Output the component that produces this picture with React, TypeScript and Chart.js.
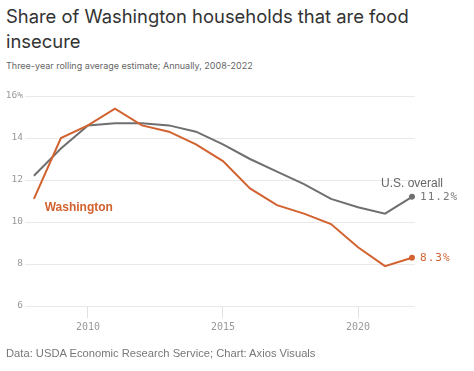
import React, { useEffect, useRef } from "react";
import { Chart, registerables } from "chart.js";

Chart.register(...registerables);

const years = [2008, 2009, 2010, 2011, 2012, 2013, 2014, 2015, 2016, 2017, 2018, 2019, 2020, 2021, 2022];
const washington = [11.1, 14.0, 14.6, 15.4, 14.6, 14.3, 13.7, 12.9, 11.6, 10.8, 10.4, 9.9, 8.8, 7.9, 8.3];
const usOverall = [12.2, 13.5, 14.6, 14.7, 14.7, 14.6, 14.3, 13.7, 13.0, 12.4, 11.8, 11.1, 10.7, 10.4, 11.2];
const xTicks = [2010, 2015, 2020];
const yTicks = [6, 8, 10, 12, 14, 16];

const ORANGE = "#d2622f";
const GRAY = "#6f6f6f";
const MONO = "'DejaVu Sans Mono', 'Liberation Mono', monospace";

const labelPlugin = {
  id: "labels",
  afterDatasetsDraw(chart: any) {
    const { ctx, scales } = chart;
    const x = scales.x;
    const y = scales.y;
    const last = years.length - 1;
    ctx.save();
    ctx.font = "bold 12px 'Liberation Sans', Arial, sans-serif";
    ctx.fillStyle = ORANGE;
    ctx.textAlign = "left";
    ctx.textBaseline = "middle";
    ctx.fillText("Washington", x.getPixelForValue(2008.4), y.getPixelForValue(10.7));
    ctx.font = "12px 'Liberation Sans', Arial, sans-serif";
    ctx.fillStyle = "#666";
    ctx.textAlign = "right";
    ctx.fillText("U.S. overall", x.getPixelForValue(years[last]) + 31, y.getPixelForValue(usOverall[last]) - 13);
    ctx.font = "11px " + MONO;
    (ctx as any).letterSpacing = "1px";
    ctx.textAlign = "left";
    ctx.fillStyle = "#777";
    ctx.fillText(usOverall[last].toFixed(1) + "%", x.getPixelForValue(years[last]) + 8, y.getPixelForValue(usOverall[last]));
    ctx.fillStyle = ORANGE;
    ctx.fillText(washington[last].toFixed(1) + "%", x.getPixelForValue(years[last]) + 8, y.getPixelForValue(washington[last]));
    ctx.restore();
  },
};

export default function App() {
  const ref = useRef<HTMLCanvasElement>(null);
  useEffect(() => {
    if (!ref.current) return;
    const last = years.length - 1;
    const chart = new Chart(ref.current, {
      type: "line",
      data: {
        datasets: [
          {
            label: "Washington",
            data: years.map((yr, i) => ({ x: yr, y: washington[i] })),
            borderColor: ORANGE,
            backgroundColor: ORANGE,
            borderWidth: 2,
            tension: 0,
            pointRadius: (c: any) => (c.dataIndex === last ? 3 : 0),
            pointBorderWidth: 0,
          },
          {
            label: "U.S. overall",
            data: years.map((yr, i) => ({ x: yr, y: usOverall[i] })),
            borderColor: GRAY,
            backgroundColor: GRAY,
            borderWidth: 2,
            tension: 0,
            pointRadius: (c: any) => (c.dataIndex === last ? 3 : 0),
            pointBorderWidth: 0,
          },
        ],
      },
      options: {
        responsive: false,
        animation: false,
        layout: { padding: { top: 96, right: 59, bottom: 35, left: 0 } },
        plugins: { legend: { display: false }, tooltip: { enabled: false } },
        scales: {
          x: {
            type: "linear",
            min: 2007.67,
            max: 2022.11,
            afterBuildTicks: (s: any) => {
              s.ticks = xTicks.map((v) => ({ value: v }));
            },
            afterFit: (s: any) => {
              s.height = 30;
            },
            ticks: {
              callback: (v: any) => String(v),
              font: { family: MONO, size: 10 },
              color: "#999",
              padding: 3,
              maxRotation: 0,
            },
            grid: { drawOnChartArea: false, drawTicks: true, tickLength: 12, color: "#e2e2e2" },
            border: { display: false },
          },
          y: {
            min: 6,
            max: 16,
            afterBuildTicks: (s: any) => {
              s.ticks = yTicks.map((v) => ({ value: v }));
            },
            afterFit: (s: any) => {
              s.width = 25;
            },
            ticks: {
              callback: (v: any) => (v === 16 ? "16%" : String(v)),
              font: { family: MONO, size: 9.5 },
              color: "#999",
              padding: 2,
            },
            grid: { drawTicks: false, color: "#e9e9e9" },
            border: { display: false },
          },
        },
      },
      plugins: [labelPlugin],
    });
    return () => chart.destroy();
  }, []);

  return (
    <div style={{ position: "absolute", left: 0, top: 0, width: 474, height: 371, background: "#fff", overflow: "hidden" }}>
      <div
        style={{
          position: "absolute",
          left: 6,
          top: 4,
          width: 440,
          fontFamily: "Inter, 'Noto Sans', sans-serif",
          fontSize: 18.4,
          lineHeight: "25px",
          color: "#333",
        }}
      >
        Share of Washington households that are food insecure
      </div>
      <div
        style={{
          position: "absolute",
          left: 6,
          top: 60,
          fontFamily: "Inter, 'Noto Sans', sans-serif",
          fontSize: 9,
          color: "#666",
          whiteSpace: "nowrap",
        }}
      >
        Three-year rolling average estimate; Annually, 2008-2022
      </div>
      <canvas ref={ref} width={474} height={371} style={{ position: "absolute", left: 0, top: 0, width: 474, height: 371 }} />
      <div
        style={{
          position: "absolute",
          left: 6,
          top: 347,
          fontFamily: "'Liberation Sans', Arial, sans-serif",
          fontSize: 11.2,
          color: "#777",
          whiteSpace: "nowrap",
        }}
      >
        Data: USDA Economic Research Service; Chart: Axios Visuals
      </div>
    </div>
  );
}
